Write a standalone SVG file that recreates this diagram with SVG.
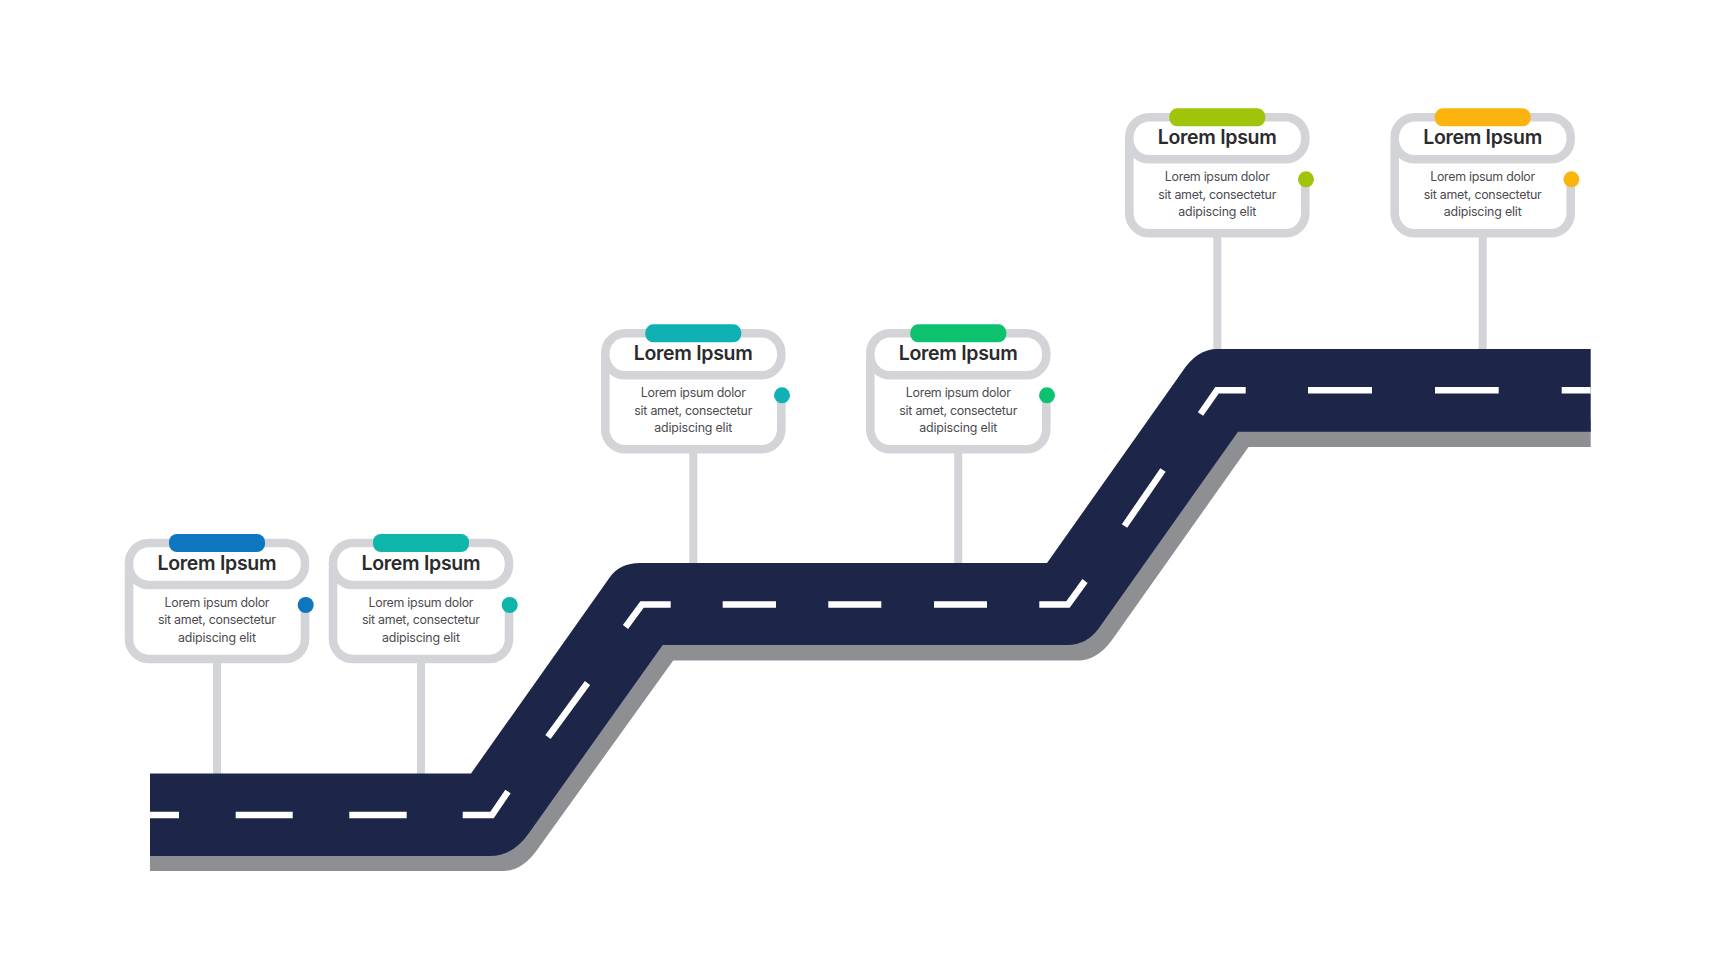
<svg xmlns="http://www.w3.org/2000/svg" width="1715" height="980" viewBox="0 0 1715 980">
<style>
.frame{fill:none;stroke:#d3d4d8;stroke-width:8.600}
.stem{stroke:#d3d4d8;stroke-width:8;fill:none}
.title{font-family:"Inter","Liberation Sans",sans-serif;font-weight:600;font-size:19.500px;fill:#2b2b2e;text-anchor:middle}
.body{font-family:"Inter","Liberation Sans",sans-serif;font-weight:400;font-size:12.400px;fill:#4b4b50;text-anchor:middle}
.dash{fill:none;stroke:#fff;stroke-width:6.500;stroke-linejoin:miter}
</style>
<defs>
<g id="frame">
<rect class="frame" x="-88" y="4" width="176" height="42" rx="20"/>
<path class="frame" d="M88 66V100A20 20 0 0 1 68 120H-68A20 20 0 0 1-88 100V30"/>
</g>
</defs>
<rect width="1715" height="980" fill="#fff"/>
<g id="connectors">
<path class="stem" d="M217 663V775M421 663V775M693.300 453V565M958.300 453V565M1217.300 237V351M1482.700 237V351"/>
</g>
<g id="road">
<path fill="#8e8f93" d="M150 840V871H503Q522 871 537 850L673.200 660.500H1078Q1097 660.500 1112 640L1248.500 447H1590.700V420H1230L1090 630H660L510 840Z"/>
<path fill="#1d2648" d="M150 773.500H471L610 577Q620 563 640 563H1047L1182 372Q1197 349 1217 349H1590.700V431.700H1238L1099 628Q1087 645 1067 645H662.700L529 833Q513 856 490 856H150Z"/>
<path class="dash" d="M150 815H179M235.700 815H292.700M349.300 815H406.700M462.700 815H492L508 791.500M548 737L587.500 683M625.500 627L642 604.500H670.700M722.700 604.500H776M828.300 604.500H881.300M934 604.500H987M1039.300 604.500H1068L1085 581M1124.500 526L1163 470M1200.500 414L1217 390.300H1245.700M1308 390.300H1372M1435 390.300H1498.700M1561.700 390.300H1590.700"/>
</g>
<g id="node-1" transform="translate(217 539)">
<use href="#frame"/><rect x="-48" y="-5" width="96" height="18" rx="8" fill="#0e75bf"/><circle cx="88.700" cy="66" r="8" fill="#0e75bf"/>
<text class="title" y="31" textLength="119">Lorem Ipsum</text>
<text class="body" y="68" textLength="105">Lorem ipsum dolor</text><text class="body" y="85.300" textLength="118">sit amet, consectetur</text><text class="body" y="102.600" textLength="78">adipiscing elit</text>
</g>
<g id="node-2" transform="translate(421 539)">
<use href="#frame"/><rect x="-48" y="-5" width="96" height="18" rx="8" fill="#0db5aa"/><circle cx="88.700" cy="66" r="8" fill="#0db5aa"/>
<text class="title" y="31" textLength="119">Lorem Ipsum</text>
<text class="body" y="68" textLength="105">Lorem ipsum dolor</text><text class="body" y="85.300" textLength="118">sit amet, consectetur</text><text class="body" y="102.600" textLength="78">adipiscing elit</text>
</g>
<g id="node-3" transform="translate(693.300 329.300)">
<use href="#frame"/><rect x="-48" y="-5" width="96" height="18" rx="8" fill="#0fb1b5"/><circle cx="88.700" cy="66" r="8" fill="#0fb1b5"/>
<text class="title" y="31" textLength="119">Lorem Ipsum</text>
<text class="body" y="68" textLength="105">Lorem ipsum dolor</text><text class="body" y="85.300" textLength="118">sit amet, consectetur</text><text class="body" y="102.600" textLength="78">adipiscing elit</text>
</g>
<g id="node-4" transform="translate(958.300 329.300)">
<use href="#frame"/><rect x="-48" y="-5" width="96" height="18" rx="8" fill="#0cc26e"/><circle cx="88.700" cy="66" r="8" fill="#0cc26e"/>
<text class="title" y="31" textLength="119">Lorem Ipsum</text>
<text class="body" y="68" textLength="105">Lorem ipsum dolor</text><text class="body" y="85.300" textLength="118">sit amet, consectetur</text><text class="body" y="102.600" textLength="78">adipiscing elit</text>
</g>
<g id="node-5" transform="translate(1217.300 113.300)">
<use href="#frame"/><rect x="-48" y="-5" width="96" height="18" rx="8" fill="#a0c40a"/><circle cx="88.700" cy="66" r="8" fill="#a0c40a"/>
<text class="title" y="31" textLength="119">Lorem Ipsum</text>
<text class="body" y="68" textLength="105">Lorem ipsum dolor</text><text class="body" y="85.300" textLength="118">sit amet, consectetur</text><text class="body" y="102.600" textLength="78">adipiscing elit</text>
</g>
<g id="node-6" transform="translate(1482.700 113.300)">
<use href="#frame"/><rect x="-48" y="-5" width="96" height="18" rx="8" fill="#fbb40d"/><circle cx="88.700" cy="66" r="8" fill="#fbb40d"/>
<text class="title" y="31" textLength="119">Lorem Ipsum</text>
<text class="body" y="68" textLength="105">Lorem ipsum dolor</text><text class="body" y="85.300" textLength="118">sit amet, consectetur</text><text class="body" y="102.600" textLength="78">adipiscing elit</text>
</g>
</svg>
